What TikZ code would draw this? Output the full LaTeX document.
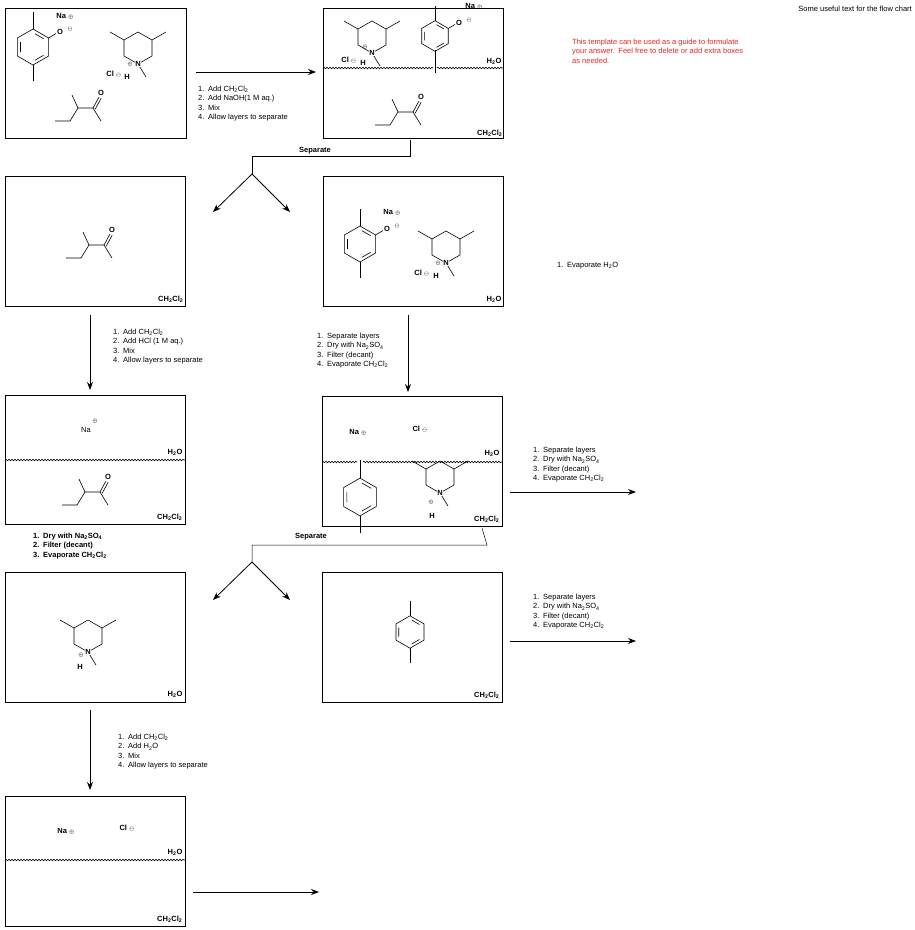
\documentclass[tikz,border=0pt]{standalone}
\usepackage{fontspec}
\setmainfont{Liberation Sans}
\usetikzlibrary{arrows.meta,decorations.pathmorphing}
\newcommand\pch{$\scriptstyle\oplus$}
\newcommand\mch{$\scriptstyle\ominus$}
\newcommand\ttwo{\textsubscript{2}}
\newcommand\tfour{\textsubscript{4}}
\tikzset{
 bond/.style={line width=0.6pt},
 lbl/.style={font=\fontsize{7.5}{8}\selectfont\bfseries, inner sep=0.4pt},
 steps/.style={font=\fontsize{7.5}{9.3}\selectfont, align=left, anchor=north west, inner sep=0},
 boxr/.style={draw, line width=0.9pt},
 wavy/.style={decorate, decoration={snake, amplitude=0.8pt, segment length=3pt}, line width=0.6pt},
 arr/.style={-{Stealth[length=8pt,width=6pt]}, line width=0.8pt},
 thin line/.style={line width=0.5pt},
 ketone/.pic={
  \draw[bond] (0,0)--(15,0)--(23,-13)--(38,-13)--(46,0);
  \draw[bond] (23,-13)--(17,-26);
  \draw[bond] (38,-13)--(44,-24);
  \draw[bond] (40.2,-11.8)--(46.2,-22.8);
  \node[lbl] (-o) at (46,-28) {O};
 },
 xring/.pic={
  \draw[bond] (0,-18)--(15.6,-9)--(15.6,9)--(0,18)--(-15.6,9)--(-15.6,-9)--cycle;
  \draw[bond] (1.9,-13.3)--(10.6,-8.3) (10.6,8.3)--(1.9,13.3) (-12.5,-5)--(-12.5,5);
  \draw[bond] (0,-18)--(0,-35) (0,18)--(0,34);
 },
 pip/.pic={
  \draw[bond] (0,0)--(-14,-8)--(-14,-24)--(0,-32)--(14,-24)--(14,-8)--cycle;
  \draw[bond] (-14,-24)--(-28,-32) (14,-24)--(28,-32) (0,0)--(8,13);
  \node[lbl,fill=white] (-n) at (0,0) {N};
 },
}
\begin{document}
\begin{tikzpicture}[x=1pt,y=-1pt]
\useasboundingbox[fill=white] (0,0) rectangle (914,930);
% boxes
\draw[boxr] (5,8) rectangle (186,138);
\draw[boxr] (323,8) rectangle (503,138);
\draw[boxr] (5,176) rectangle (185,306);
\draw[boxr] (323,176) rectangle (503,306);
\draw[boxr] (5,395) rectangle (185,524);
\draw[boxr] (322,396) rectangle (502,526);
\draw[boxr] (5,572) rectangle (185,702);
\draw[boxr] (322,572) rectangle (502,702);
\draw[boxr] (5,796) rectangle (185,926);
% wavy
\draw[wavy] (323,68)--(433,68); \draw[wavy] (437,68)--(503,68);
\draw[wavy] (5,460)--(185,460);
\draw[wavy] (322,462)--(357,462); \draw[wavy] (363,462)--(502,462);
\draw[wavy] (5,860)--(185,860);
% B1
\pic at (33,47) {xring};
\draw[bond] (48.6,38)--(56,33.5);
\node[lbl] (o1) at (60,32) {O}; \node[lbl] (m1) at (70,29) {\mch};
\node[lbl] (na1) at (65,16) {Na \pch};
\pic (p1) at (138,64) {pip};
\node[lbl] (pl1) at (130,64) {\pch};
\node[lbl] (h1) at (127,77) {H};
\node[lbl,anchor=east] (cl1) at (122,74) {Cl \mch};
\pic (k1) at (55,121) {ketone};
% B2
\pic (p2) at (372,53) {pip};
\node[lbl] (pl2) at (365,47) {\pch};
\node[lbl] (h2) at (363,63) {H};
\node[lbl,anchor=east] (cl2) at (357,60) {Cl \mch};
\pic[scale=0.85] at (435,36) {xring};
\draw[bond] (435,50)--(435,73);
\draw[bond] (448.3,28.4)--(455,24.5);
\node[lbl] (o2) at (459,23) {O}; \node[lbl] (m2) at (469,20) {\mch};
\node[lbl] (na2) at (474,6) {Na \pch};
\node[lbl,anchor=south east] (w2) at (502,65) {H\ttwo O};
\pic (k2) at (375,125) {ketone};
\node[lbl,anchor=south east] (d2) at (503,137) {CH\ttwo Cl\ttwo};
% arrow 1
\coordinate (a1s) at (196,72); \coordinate (a1e) at (316,72);
\draw[arr] (a1s)--(a1e);
\node[steps] (t1) at (198,86) {1.\enspace Add CH\ttwo Cl\ttwo\\2.\enspace Add NaOH(1 M aq.)\\3.\enspace Mix\\4.\enspace Allow layers to separate};
% separate 1
\coordinate (s1a) at (410,140); \coordinate (s1b) at (410,156); \coordinate (s1c) at (252,156); \coordinate (s1d) at (252,174);
\coordinate (s1l) at (213,212); \coordinate (s1r) at (290,212);
\draw[thin line] (s1a)--(s1b)--(s1c)--(s1d);
\draw[arr] (s1d)--(s1l); \draw[arr] (s1d)--(s1r);
\node[lbl] (sep1) at (315,151) {Separate};
% B3
\pic (k3) at (66,258) {ketone};
\node[lbl,anchor=south east] (d3) at (184,303) {CH\ttwo Cl\ttwo};
% B4
\pic at (360,244) {xring};
\draw[bond] (375.6,235)--(383,230.5);
\node[lbl] (o4) at (387,229) {O}; \node[lbl] (m4) at (397,226) {\mch};
\node[lbl] (na4) at (392,212) {Na \pch};
\pic (p4) at (446,263) {pip};
\node[lbl] (pl4) at (438,263) {\pch};
\node[lbl] (h4) at (436,276) {H};
\node[lbl,anchor=east] (cl4) at (430,273) {Cl \mch};
\node[lbl,anchor=south east] (w4) at (502,303) {H\ttwo O};
\node[steps] (t8) at (557,262) {1.\enspace Evaporate H\ttwo O};
% arrows from row 2
\coordinate (a2s) at (90,315); \coordinate (a2e) at (90,390);
\draw[arr] (a2s)--(a2e);
\node[steps] (t2) at (113,329) {1.\enspace Add CH\ttwo Cl\ttwo\\2.\enspace Add HCl (1 M aq.)\\3.\enspace Mix\\4.\enspace Allow layers to separate};
\coordinate (a3s) at (408,315); \coordinate (a3e) at (408,392);
\draw[arr] (a3s)--(a3e);
\node[steps] (t3) at (317,333) {1.\enspace Separate layers\\2.\enspace Dry with Na\ttwo SO\tfour\\3.\enspace Filter (decant)\\4.\enspace Evaporate CH\ttwo Cl\ttwo};
% B5
\node[font=\fontsize{7.5}{8}\selectfont, inner sep=0.4pt] (na5) at (86,430) {Na};
\node[lbl] (pl5) at (95,421) {\pch};
\node[lbl,anchor=south east] (w5) at (183,456) {H\ttwo O};
\pic (k5) at (62,505) {ketone};
\node[lbl,anchor=south east] (d5) at (183,521) {CH\ttwo Cl\ttwo};
\node[steps,font=\fontsize{7.5}{9.3}\selectfont\bfseries] (t6) at (33,533) {1.\enspace Dry with Na\ttwo SO\tfour\\2.\enspace Filter (decant)\\3.\enspace Evaporate CH\ttwo Cl\ttwo};
% B6
\node[lbl] (na6) at (358,432) {Na \pch};
\node[lbl] (cl6) at (420,429) {Cl \mch};
\node[lbl,anchor=south east] (w6) at (500,457) {H\ttwo O};
\pic[scale=1.05] at (360,497) {xring};
\pic (p6) at (440,493) {pip};
\node[lbl] (pl6) at (431,502) {\pch};
\node[lbl] (h6) at (432,516) {H};
\node[lbl,anchor=south east] (d6) at (500,523) {CH\ttwo Cl\ttwo};
\coordinate (a4s) at (510,492); \coordinate (a4e) at (636,492);
\draw[arr] (a4s)--(a4e);
\node[steps] (t4) at (533,447) {1.\enspace Separate layers\\2.\enspace Dry with Na\ttwo SO\tfour\\3.\enspace Filter (decant)\\4.\enspace Evaporate CH\ttwo Cl\ttwo};
% separate 2
\coordinate (s2a) at (482,528); \coordinate (s2b) at (487,545); \coordinate (s2c) at (252,545); \coordinate (s2d) at (252,562);
\coordinate (s2l) at (213,600); \coordinate (s2r) at (290,600);
\draw[thin line] (s2a)--(s2b)--(s2c)--(s2d);
\draw[arr] (s2d)--(s2l); \draw[arr] (s2d)--(s2r);
\node[lbl] (sep2) at (311,537) {Separate};
% B7
\pic (p7) at (88,652) {pip};
\node[lbl] (pl7) at (81,655) {\pch};
\node[lbl] (h7) at (80,667) {H};
\node[lbl,anchor=south east] (w7) at (183,698) {H\ttwo O};
% B8
\pic[scale=0.9] at (410,632) {xring};
\node[lbl,anchor=south east] (d8) at (500,699) {CH\ttwo Cl\ttwo};
\coordinate (a5s) at (510,641); \coordinate (a5e) at (636,641);
\draw[arr] (a5s)--(a5e);
\node[steps] (t5) at (533,594) {1.\enspace Separate layers\\2.\enspace Dry with Na\ttwo SO\tfour\\3.\enspace Filter (decant)\\4.\enspace Evaporate CH\ttwo Cl\ttwo};
% arrow to B9
\coordinate (a6s) at (90,710); \coordinate (a6e) at (90,790);
\draw[arr] (a6s)--(a6e);
\node[steps] (t7) at (118,734) {1.\enspace Add CH\ttwo Cl\ttwo\\2.\enspace Add H\ttwo O\\3.\enspace Mix\\4.\enspace Allow layers to separate};
% B9
\node[lbl] (na9) at (66,831) {Na \pch};
\node[lbl] (cl9) at (127,828) {Cl \mch};
\node[lbl,anchor=south east] (w9) at (183,856) {H\ttwo O};
\node[lbl,anchor=south east] (d9) at (183,923) {CH\ttwo Cl\ttwo};
\coordinate (a7s) at (193,892); \coordinate (a7e) at (319,892);
\draw[arr] (a7s)--(a7e);
% notes
\node[font=\fontsize{7.5}{8}\selectfont, anchor=north east, inner sep=0] (note1) at (912,6) {Some useful text for the flow chart};
\node[steps, text={rgb,255:red,235;green,35;blue,30}] (note2) at (572,39) {This template can be used as a guide to formulate\\your answer.\enspace Feel free to delete or add extra boxes\\as needed.};
\end{tikzpicture}
\end{document}
